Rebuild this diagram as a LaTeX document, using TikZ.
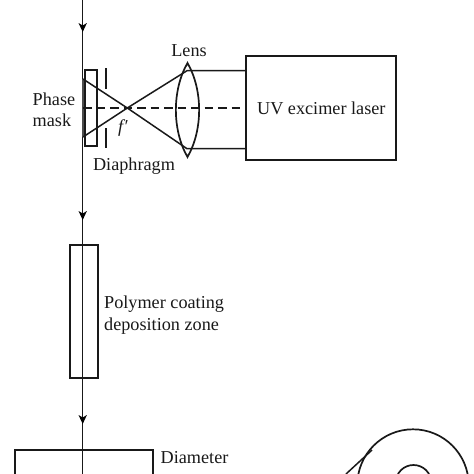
\documentclass[tikz,border=0pt]{standalone}
\usepackage{fontspec}
\setmainfont{Liberation Serif}
\usetikzlibrary{arrows.meta}
\tikzset{
 ln/.style={draw=black!90,line width=1.7pt},
 thinln/.style={draw=black!90,line width=1.5pt},
 lab/.style={font=\fontsize{18.2}{21.5}\selectfont,text=black!90,inner sep=0pt},
 headfill/.style={fill=black},
}
\begin{document}
\begin{tikzpicture}[x=1pt,y=-1pt]
\useasboundingbox (0,0) rectangle (474,474);
\clip (0,0) rectangle (474,474);
% coordinates
\coordinate (top) at (82.7,0);
\coordinate (bot) at (82.7,474);
\coordinate (F) at (127.3,108);
\coordinate (LT) at (187.5,63);
\coordinate (LB) at (187.5,157);
\coordinate (RT) at (187,70.7);
\coordinate (RB) at (187,148.7);
\coordinate (MT) at (83,79);
\coordinate (MB) at (83,137);
% main fibre
\draw[thinln] (top) -- (bot);
\fill[headfill] (82.7,32) -- ++(-4.2,-9) -- ++(4.2,2.5) -- ++(4.2,-2.5) -- cycle;
\fill[headfill] (82.7,220) -- ++(-4.2,-9) -- ++(4.2,2.5) -- ++(4.2,-2.5) -- cycle;
\fill[headfill] (82.7,424) -- ++(-4.2,-9) -- ++(4.2,2.5) -- ++(4.2,-2.5) -- cycle;
% phase mask
\node[ln,minimum width=12pt,minimum height=76pt,inner sep=0pt,outer sep=0pt] (mask) at (91.3,108) {};
\draw[draw=black!70,line width=2.5pt] (MT) -- (MB);
% diaphragm
\coordinate (D1) at (106,68); \coordinate (D2) at (106,89);
\coordinate (D3) at (106,128); \coordinate (D4) at (106,148);
\draw[ln,line width=2.2pt] (D1) -- (D2);
\draw[ln,line width=2.2pt] (D3) -- (D4);
% rays
\draw[thinln] (MT) -- (F) -- (RB) -- (246.3,148.7);
\draw[thinln] (MB) -- (F) -- (RT) -- (246.3,70.7);
% lens
\draw[ln] (LT) .. controls (172,90) and (172,130) .. (LB) .. controls (203,130) and (203,90) .. (LT) -- cycle;
% laser and axis
\node[ln,line width=2pt,minimum width=149.4pt,minimum height=104pt,inner sep=0pt,outer sep=0pt] (laser) at (321,108) {};
\draw[thinln,dash pattern=on 8.5pt off 5pt] (83,108) -- (laser.west);
% polymer zone
\node[ln,minimum width=27.7pt,minimum height=133pt,inner sep=0pt,outer sep=0pt] (zone) at (83.8,311.5) {};
% diameter box
\draw[ln] (15,480) -- (15,450) -- (152.7,450) -- (152.7,480);
% spool
\draw[ln] (413,485) circle[radius=55.7];
\draw[ln] (413.5,482.8) circle[radius=17.8];
\coordinate (S1) at (346,474); \coordinate (S2) at (372,450);
\draw[thinln] (S1) -- (S2);
% labels
\node[lab,align=left,anchor=base west] (lphase) at (32.5,126.5) {Phase\\mask};
\node[lab,anchor=base] (llens) at (189,56.5) {Lens};
\node[lab,anchor=base] (ldia) at (134,170) {Diaphragm};
\node[lab,anchor=base] (lf) at (123,132) {\textit{f\kern0.5pt′}};
\node[lab,anchor=base] (luv) at (321.3,114) {UV excimer laser};
\node[lab,align=left,anchor=base west] (lpoly) at (104,330) {Polymer coating\\deposition zone};
\node[lab,anchor=base west] (ldiam) at (160.5,463) {Diameter};
\end{tikzpicture}
\end{document}
